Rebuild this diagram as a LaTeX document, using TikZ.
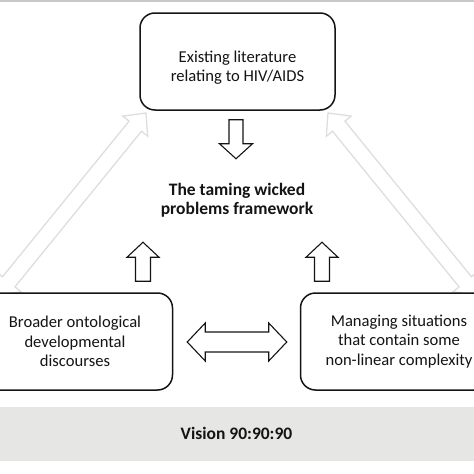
\documentclass[tikz,border=0pt]{standalone}
\usepackage{fontspec}
\setmainfont{Carlito}
\usetikzlibrary{calc}
\definecolor{barfill}{RGB}{230,230,228}
\definecolor{topline}{RGB}{200,200,200}
\definecolor{faint}{RGB}{222,222,222}
\definecolor{ink}{RGB}{20,20,20}
% single block arrow: #1 style, #2 tail, #3 tip, #4 head length, #5 head half width, #6 shaft half width
\newcommand{\blockarrowone}[6]{%
  \coordinate (ba-h) at ($(#3)!#4!(#2)$);
  \draw[#1] (#3) -- ($(ba-h)!#5!90:(#3)$) -- ($(ba-h)!#6!90:(#3)$)
    -- ($(#2)!#6!90:(#3)$) -- ($(#2)!#6!-90:(#3)$)
    -- ($(ba-h)!#6!-90:(#3)$) -- ($(ba-h)!#5!-90:(#3)$) -- cycle;}
% double block arrow: #1 style, #2 end A, #3 end B, #4 head length, #5 head half width, #6 shaft half width
\newcommand{\blockarrowtwo}[6]{%
  \coordinate (ba-a) at ($(#2)!#4!(#3)$);
  \coordinate (ba-b) at ($(#3)!#4!(#2)$);
  \draw[#1] (#2) -- ($(ba-a)!#5!90:(#2)$) -- ($(ba-a)!#6!90:(#2)$)
    -- ($(ba-b)!#6!-90:(#3)$) -- ($(ba-b)!#5!-90:(#3)$) -- (#3)
    -- ($(ba-b)!#5!90:(#3)$) -- ($(ba-b)!#6!90:(#3)$)
    -- ($(ba-a)!#6!-90:(#2)$) -- ($(ba-a)!#5!-90:(#2)$) -- cycle;}
\tikzset{
  box/.style={draw=ink, line width=1.5pt, rounded corners=15pt, fill=white,
    minimum width=195pt, minimum height=97pt, inner sep=0pt},
  boxtext/.style={align=center, font=\fontsize{16.6}{19.5}\selectfont, text=ink, inner sep=0pt},
  boldtext/.style={align=center, font=\fontsize{17.5}{19.5}\selectfont\bfseries, text=ink, inner sep=0pt},
  blockarrow/.style={draw=ink, line width=1.1pt, fill=white, line join=miter},
  faintarrow/.style={draw=faint, line width=1.3pt, fill=white, line join=miter},
}
\begin{document}
\begin{tikzpicture}[x=1pt, y=-1pt]
\useasboundingbox (0,0) rectangle (474,474);
\clip (0,0) rectangle (474,474);
\fill[white] (0,0) rectangle (474,474);
\fill[topline] (0,0) rectangle (474,2.3);
\fill[barfill] (0,407) rectangle (474,461);
\node[boldtext] (vision) at (236.5,433) {Vision 90:90:90};
% faint diagonal double arrows
\coordinate (dlb) at (-2,295);
\coordinate (dlt) at (146,113);
\coordinate (drb) at (476,295);
\coordinate (drt) at (328,113);
\blockarrowtwo{faintarrow}{dlb}{dlt}{17pt}{16pt}{8pt}
\blockarrowtwo{faintarrow}{drb}{drt}{17pt}{16pt}{8pt}
% boxes
\node[box] (lit) at (237.5,61.5) {};
\node[boxtext] (littext) at ($(lit.center)+(0,6)$) {Existing literature\\relating to HIV/AIDS};
\node[box] (onto) at (75,341.5) {};
\node[boxtext] (ontotext) at (onto.center) {Broader ontological\\developmental\\discourses};
\node[box] (manage) at (398,341.5) {};
\node[boxtext] (managetext) at ($(manage.center)+(1,0)$) {Managing situations\\that contain some\\non-linear complexity};
\node[boldtext] (frame) at (237,200) {The taming wicked\\problems framework};
% block arrows
\coordinate (downtail) at ($(lit.south)+(-1.5,9)$);
\coordinate (downtip) at ($(lit.south)+(-1.5,48)$);
\blockarrowone{blockarrow}{downtail}{downtip}{15pt}{16.5pt}{7pt}
\coordinate (uplt) at ($(onto.north)+(68,-11)$);
\coordinate (uplp) at ($(onto.north)+(68,-50)$);
\blockarrowone{blockarrow}{uplt}{uplp}{15pt}{16pt}{7.5pt}
\coordinate (uprt) at ($(manage.north)+(-76,-11)$);
\coordinate (uprp) at ($(manage.north)+(-76,-50)$);
\blockarrowone{blockarrow}{uprt}{uprp}{15pt}{16pt}{7.5pt}
\coordinate (hl) at ($(onto.east)+(14,0.5)$);
\coordinate (hr) at ($(manage.west)+(-13,0.5)$);
\blockarrowtwo{blockarrow}{hl}{hr}{18pt}{19pt}{10pt}
\end{tikzpicture}
\end{document}
